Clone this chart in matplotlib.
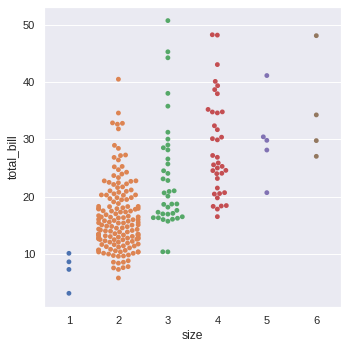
import pandas as pd
import seaborn as sns
import matplotlib
matplotlib.use("Agg")
import matplotlib.pyplot as plt

# total_bill values grouped by party size (tips data)
bills_size1 = [3.07, 10.07, 7.25, 8.58]
bills_size2 = [16.99, 23.68, 8.77, 15.04, 14.78, 10.27, 15.42, 14.83, 21.58, 17.92,
               20.29, 15.77, 19.82, 13.37, 12.69, 21.70, 19.65, 9.55, 15.06, 17.78,
               17.46, 13.94, 9.68, 18.29, 22.23, 18.04, 12.54, 10.29, 9.94, 19.49,
               26.41, 11.24, 20.29, 13.81, 11.02, 16.45, 20.23, 15.01, 12.02, 26.86,
               25.28, 14.73, 10.51, 17.92, 22.76, 17.29, 19.44, 16.66, 32.68, 15.98,
               13.03, 18.28, 24.71, 21.16, 28.97, 22.49, 5.75, 16.32, 22.75, 27.28,
               12.03, 21.01, 12.46, 11.35, 15.38, 22.42, 20.92, 15.36, 20.49, 25.21,
               18.24, 14.31, 14.00, 23.95, 17.31, 10.65, 12.43, 11.69, 13.42, 14.26,
               15.95, 12.48, 8.52, 14.52, 11.38, 19.08, 20.27, 11.17, 12.26, 18.26,
               8.51, 10.33, 14.15, 16.00, 13.16, 17.47, 16.43, 8.35, 11.87, 9.78,
               7.51, 14.07, 13.13, 13.39, 12.66, 13.81, 17.51, 20.76, 10.59, 10.63,
               15.81, 7.25, 31.85, 16.82, 32.90, 17.89, 14.48, 9.60, 34.63, 23.33,
               40.55, 15.69, 19.81, 28.44, 15.48, 16.58, 7.56, 10.34, 13.00, 13.51,
               12.74, 13.00, 16.40, 24.27, 12.76, 13.27, 12.90, 11.59, 7.74, 12.16,
               13.42, 13.42, 16.27, 10.09, 13.28, 22.12, 11.61, 10.77, 15.53, 10.07,
               12.60, 32.83, 27.18, 22.67, 17.82, 18.78]
bills_size3 = [10.34, 21.01, 10.33, 16.29, 16.97, 20.65, 24.06, 16.31, 16.93, 18.69,
               31.27, 16.04, 28.55, 17.59, 20.08, 17.07, 44.30, 38.07, 25.71, 22.82,
               18.64, 17.26, 16.21, 24.52, 50.81, 45.35, 20.90, 18.15, 23.10, 18.71,
               16.47, 26.59, 30.06, 28.17, 15.98, 15.69, 35.83, 29.03]
bills_size4 = [24.59, 25.29, 26.88, 35.26, 18.43, 39.42, 17.81, 18.35, 20.69, 30.40,
               32.40, 34.81, 25.56, 38.01, 48.27, 18.29, 27.20, 34.83, 40.17, 29.93,
               24.08, 24.55, 19.77, 25.00, 16.49, 21.50, 31.71, 34.65, 23.17, 43.11,
               20.53, 38.73, 25.89, 48.33, 30.14, 20.45, 24.01]
bills_size5 = [41.19, 29.85, 20.69, 30.46, 28.15]
bills_size6 = [29.80, 34.30, 27.05, 48.17]

sizes = ["1", "2", "3", "4", "5", "6"]
groups = [bills_size1, bills_size2, bills_size3, bills_size4, bills_size5, bills_size6]

rows = []
for s, g in zip(sizes, groups):
    for b in g:
        rows.append({"size": s, "total_bill": b})
tips_df = pd.DataFrame(rows)

sns.set_theme(style="darkgrid")
plt.rcParams['font.family'] = ['Liberation Sans', 'DejaVu Sans']
plt.rcParams['xtick.labelsize'] = 11.5
plt.rcParams['ytick.labelsize'] = 11.5
plt.rcParams['axes.labelsize'] = 12.5

fig, ax = plt.subplots(figsize=(5, 5), dpi=69.6)
sns.swarmplot(data=tips_df, x="size", y="total_bill", hue="size", order=sizes,
              hue_order=sizes, palette="deep", legend=False, size=5, ax=ax)
ax.set_xlabel("size")
ax.set_ylabel("total_bill")
fig.subplots_adjust(left=0.127, right=0.98, bottom=0.118, top=0.98)

fig.savefig("out.png", dpi=69.6)
